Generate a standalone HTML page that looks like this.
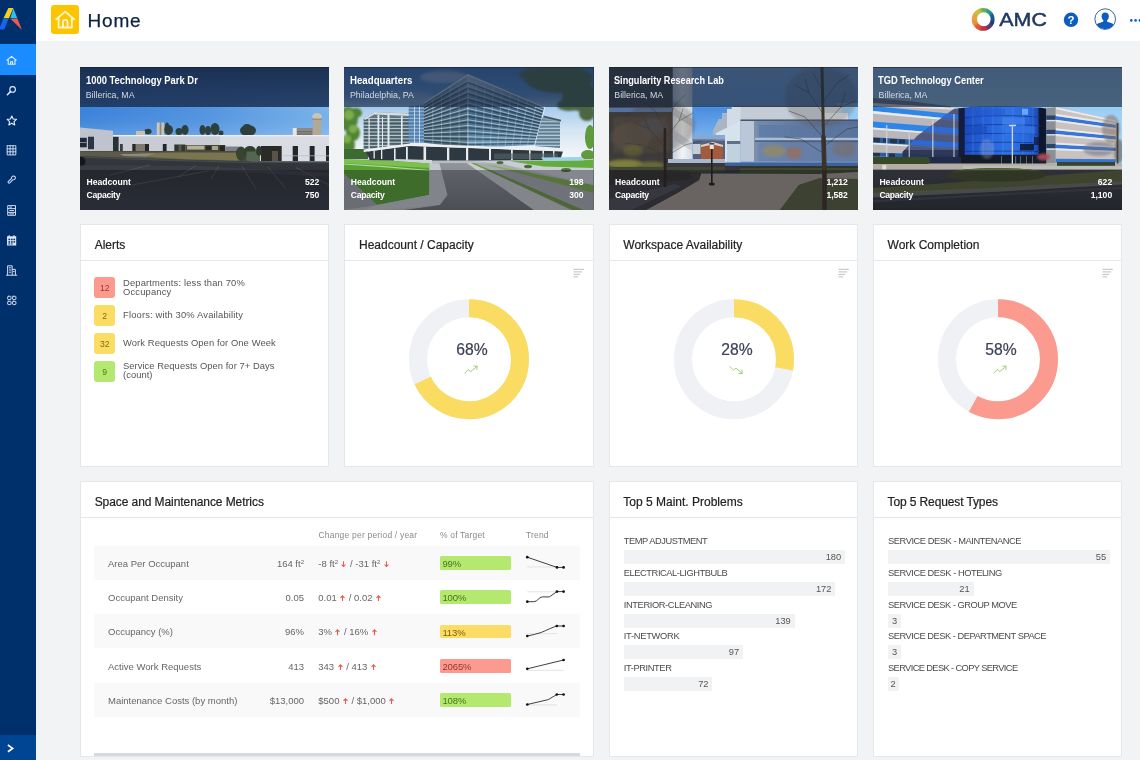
<!DOCTYPE html>
<html lang="en">
<head>
<meta charset="utf-8">
<title>Home</title>
<style>
*{box-sizing:border-box;margin:0;padding:0}
html,body{width:1140px;height:760px;overflow:hidden}
body{background:#f1f3f5;font-family:"Liberation Sans",sans-serif;color:#333;position:relative}
.abs{position:absolute}
#side{position:absolute;left:0;top:0;width:36px;height:760px;background:#00306b}
#side .act{position:absolute;left:0;top:44px;width:36px;height:31px;background:#1a8cff}
#side svg{position:absolute;left:0;top:0}
#top{position:absolute;left:36px;top:0;width:1104px;height:41px;background:#fff}
#homeico{position:absolute;left:50.5px;top:5px;width:28.5px;height:29px;border-radius:3px;background:#fdc500}
#title{position:absolute;left:87.600px;top:8.800px;font-size:19px;color:#0c2340;letter-spacing:.8px;-webkit-text-stroke:.25px #0c2340;line-height:24px}
.card{position:absolute;top:67px;height:143px;width:249.3px;overflow:hidden;background:#345}
.card .hd{position:absolute;left:0;top:0;right:0;height:40px;background:rgba(28,42,66,.66);border-top:1px solid rgba(30,30,30,.55)}
.card .ft{position:absolute;left:0;bottom:0;right:0;height:40px;background:rgba(20,22,28,.38)}
.card .t{position:absolute;left:5.6px;top:7.3px;font-size:10.7px;font-weight:bold;color:#fff;white-space:nowrap;line-height:12px;transform-origin:0 0;transform:scaleX(.88)}
.card .s{position:absolute;left:5.7px;top:23px;font-size:8.8px;color:#d3d9e2;white-space:nowrap;line-height:10px}
.card .l1,.card .l2,.card .v1,.card .v2{position:absolute;font-size:8.6px;font-weight:bold;color:#fff;white-space:nowrap;line-height:10px}
.card .l1{left:6.5px;top:109.5px}.card .l2{left:6.5px;top:122.5px;letter-spacing:-.27px}
.card .v1{right:10px;top:109.5px}.card .v2{right:10px;top:122.5px}
.panel{position:absolute;background:#fff;border:1px solid #e5e8eb}
.panel .ph{position:absolute;left:0;right:0;top:0;height:35.5px;border-bottom:1px solid #e5e8eb}
.panel .pt{position:absolute;left:13.7px;top:13px;font-size:12px;color:#222;white-space:nowrap;line-height:14px;-webkit-text-stroke:.2px #222}

.bdg{position:absolute;left:94.2px;width:21px;height:21px;border-radius:3px;font-size:8.6px;line-height:22.6px;text-align:center}
.al{position:absolute;left:123px;font-size:9.4px;line-height:9.1px;color:#555;white-space:nowrap;letter-spacing:.16px}

.band{position:absolute;left:93.7px;width:486px;height:34.3px;background:#f9f9fa}
.th{position:absolute;top:530px;font-size:8.5px;line-height:10px;color:#8a8a8a;white-space:nowrap;letter-spacing:.2px}
.rl,.rv,.rc{margin-top:.7px;position:absolute;font-size:9.5px;line-height:12px;color:#666;white-space:nowrap}
.rl{left:108px}
.rv{right:836px;text-align:right}
.rc{left:318.3px}
.rc svg{display:inline-block;vertical-align:-0.3px;margin:0 3.6px 0 3.4px}
.tb{position:absolute;left:439.8px;width:71.4px;height:13.8px;border-radius:1.5px;font-size:9.5px;line-height:15.8px;padding-left:2.6px;letter-spacing:-.1px}
.g{background:#b5e86f;color:#46761a}.y{background:#fbdd66;color:#7d5f0c}.r{background:#fb9b8f;color:#9a332b}
sup.q{font-size:6px;vertical-align:3px;line-height:0}

.bl{margin-top:.6px;position:absolute;font-size:9.3px;line-height:11px;color:#4a4a4a;white-space:nowrap;letter-spacing:-.44px}
.bb{position:absolute;height:14px;background:#f1f2f4;font-size:9.3px;line-height:15.4px;color:#555;text-align:right;padding-right:3.8px;white-space:nowrap}
.card svg.ph{position:absolute;left:0;top:0;width:100%;height:100%}
</style>
</head>
<body>
<div id="side"><div class="act"></div><svg width="36" height="760" viewBox="0 0 36 760">
<!-- logo -->
<polygon points="8.4,7.9 13.3,7.9 8.9,18.2 3.5,18.2" fill="#f7cf1c"/>
<polygon points="13.4,8.2 17.3,18.2 10.2,18.2" fill="#2bc0ee"/>
<polygon points="3.1,19 8.5,19 4.3,29.6 -1,29.6" fill="#1465f2"/>
<polygon points="10.7,19 17.4,18.6 22,30" fill="#f0584a"/>
<g fill="none" stroke="#e3eefc" stroke-width="1.1" stroke-linejoin="round" stroke-linecap="round">
<!-- home -->
<path d="M7 60.2 L11.6 56.4 L16.2 60.2 M8.2 59.7 V64.2 H15 V59.7 M10.6 64.2 V61.8 H12.6 V64.2"/>
<!-- search -->
<circle cx="12.6" cy="89.4" r="2.8"/><path d="M10.5 91.6 L7.4 94.7" stroke-width="1.5"/>
<!-- star -->
<path d="M11.80 116.00 L13.18 119.04 L16.49 119.40 L14.01 121.61 L14.74 124.92 L11.80 123.18 L8.86 124.92 L9.59 121.61 L7.11 119.40 L10.42 119.04 Z"/>
</g>
<g fill="none" stroke="#cfdcf0" stroke-width="1" stroke-linejoin="round" stroke-linecap="round">
<!-- grid -->
<path d="M7.2 145.7 H15.8 V154.9 H7.2 Z M7.2 148.8 H15.8 M7.2 151.8 H15.8 M10.1 145.7 V154.9 M13 145.7 V154.9" stroke-dasharray="1.2 .7"/>
<!-- wrench -->
<path d="M8.38 181.48 L11.58 178.28 A1.92 1.92 0 1 1 13.02 179.72 L9.82 182.92 A1.00 1.00 0 0 1 8.38 181.48 Z" stroke-width="1.1"/>
<!-- list -->
<path d="M8.1 205.6 H15.5 V215.3 H8.1 Z M8.1 208.6 H15.5 M8.1 212.4 H15.5 M9.8 207.1 H11.5 M9.8 210.5 H13.6 M9.8 213.9 H13.6"/>
<!-- building -->
<path d="M7.6 275 V265.8 H12.2 V275 M12.2 269.4 H15.4 V275 M6.5 275.2 H16.8 M9.2 267.8 H10.6 M9.2 270 H10.6 M9.2 272.2 H10.6 M13.4 271.6 H14.2" />
<!-- apps -->
<rect x="7.7" y="296.3" width="3.3" height="3.3" rx=".6"/><rect x="12.6" y="296.3" width="3.3" height="3.3" rx=".6"/>
<rect x="7.7" y="301.3" width="3.3" height="3.3" rx=".6"/><rect x="12.6" y="301.3" width="3.3" height="3.3" rx=".6"/>
</g>
<!-- calendar -->
<path d="M7 236.2 H8.6 V235.2 H9.8 V236.2 H13.4 V235.2 H14.6 V236.2 H16.2 V245.4 H7 Z" fill="#dbe6f6"/>
<g fill="#00306b"><rect x="8.4" y="238.7" width="1.7" height="1.5"/><rect x="10.9" y="238.7" width="1.7" height="1.5"/><rect x="13.4" y="238.7" width="1.7" height="1.5"/>
<rect x="8.4" y="241.2" width="1.7" height="1.5"/><rect x="10.9" y="241.2" width="1.7" height="1.5"/><rect x="13.4" y="241.2" width="1.7" height="1.5"/>
<rect x="8.4" y="243.4" width="1.7" height="1.1"/><rect x="10.9" y="243.4" width="1.7" height="1.1"/></g>
<!-- bottom -->
<rect x="0" y="735" width="36" height="25" fill="#004494"/>
<path d="M7.9 745 L12.6 748.4 L7.9 751.8" fill="none" stroke="#fff" stroke-width="1.7"/>
</svg></div>
<div id="top"></div>
<div id="homeico"><svg width="29" height="29" viewBox="0 0 29 29" style="position:absolute;left:0;top:0"><path d="M5.3 14.3 L14.2 6.6 L23.1 14.3 M7.6 13.4 V22.5 H20.8 V13.4 M11.9 22.5 V17.2 A2.3 2.3 0 0 1 16.5 17.2 V22.5" fill="none" stroke="#fff6d0" stroke-width="1.8" stroke-linejoin="round" stroke-linecap="round"/></svg></div>
<svg class="abs" style="left:960px;top:0" width="180" height="41" viewBox="960 0 180 41">
<defs>
<linearGradient id="rg1" x1="0" y1="0" x2="1" y2="0"><stop offset="0" stop-color="#f0a23a"/><stop offset=".45" stop-color="#8fc04a"/><stop offset="1" stop-color="#3e86c8"/></linearGradient>
<linearGradient id="rg2" x1="0" y1="0" x2="1" y2="0"><stop offset="0" stop-color="#e8853a"/><stop offset=".45" stop-color="#d8453a"/><stop offset="1" stop-color="#3f6fb8"/></linearGradient>
</defs>
<clipPath id="ringc"><path clip-rule="evenodd" d="M971.8000000000001 19.4 a11.4 11.4 0 1 0 22.8 0 a11.4 11.4 0 1 0 -22.8 0 Z M977.0 19.3 a6.8 7 0 1 1 13.6 0 a6.8 7 0 1 1 -13.6 0 Z"/></clipPath>
<filter id="ringb" x="-20%" y="-20%" width="140%" height="140%"><feGaussianBlur stdDeviation="1.1"/></filter>
<g clip-path="url(#ringc)"><g filter="url(#ringb)"><path d="M983.2 19.4 L978.87 6.09 A14 14 0 0 1 987.99 6.24 Z" fill="#6ab04c"/><path d="M983.2 19.4 L987.53 6.09 A14 14 0 0 1 994.81 11.57 Z" fill="#2f9a8a"/><path d="M983.2 19.4 L994.53 11.17 A14 14 0 0 1 997.19 19.89 Z" fill="#1f5a8a"/><path d="M983.2 19.4 L997.20 19.40 A14 14 0 0 1 994.23 28.02 Z" fill="#1f3f78"/><path d="M983.2 19.4 L994.53 27.63 A14 14 0 0 1 987.06 32.86 Z" fill="#5a3a70"/><path d="M983.2 19.4 L987.53 32.71 A14 14 0 0 1 978.41 32.56 Z" fill="#c62f3c"/><path d="M983.2 19.4 L978.87 32.71 A14 14 0 0 1 971.59 27.23 Z" fill="#e2572e"/><path d="M983.2 19.4 L971.87 27.63 A14 14 0 0 1 969.21 18.91 Z" fill="#e8923a"/><path d="M983.2 19.4 L969.20 19.40 A14 14 0 0 1 972.17 10.78 Z" fill="#e6a43a"/><path d="M983.2 19.4 L971.87 11.17 A14 14 0 0 1 979.34 5.94 Z" fill="#c8c040"/></g></g>
<text x="999.3" y="26.3" font-family="Liberation Sans, sans-serif" font-size="18.3" fill="#1f3864" stroke="#1f3864" stroke-width=".45" textLength="47.6" lengthAdjust="spacingAndGlyphs">AMC</text>
<circle cx="1071" cy="19.8" r="7.2" fill="#0d5cc0"/>
<text x="1071" y="24" text-anchor="middle" font-family="Liberation Sans, sans-serif" font-weight="bold" font-size="11.5" fill="#fff">?</text>
<circle cx="1105.2" cy="19.1" r="10.3" fill="#fff" stroke="#2f66b4" stroke-width="1"/>
<clipPath id="uc"><circle cx="1105.2" cy="19.1" r="10.2"/></clipPath>
<g clip-path="url(#uc)" fill="#0d5cc0"><ellipse cx="1105.2" cy="16.6" rx="3.6" ry="4"/><path d="M1103.300 19 H1107.100 V21.500 C1109 22.800 1113.500 23 1115 26 V31 H1095.400 V26 C1096.900 23 1101.400 22.800 1103.300 21.500 Z"/></g>
<circle cx="1131.3" cy="20.4" r="1.3" fill="#0d5cc0"/><circle cx="1135.6" cy="20.4" r="1.3" fill="#0d5cc0"/><circle cx="1139.9" cy="20.4" r="1.3" fill="#0d5cc0"/>
</svg>
<div id="title">Home</div>

<div class="card" style="left:80px"><svg class="ph" viewBox="0 0 249.3 143" preserveAspectRatio="none">
<defs>
<linearGradient id="c1sky" x1="0" y1="0" x2="1" y2="0"><stop offset="0" stop-color="#3a82da"/><stop offset=".5" stop-color="#5495e0"/><stop offset="1" stop-color="#7db6ec"/></linearGradient>
<linearGradient id="c1skyv" x1="0" y1="0" x2="0" y2="1"><stop offset="0" stop-color="#1c3c74" stop-opacity="1"/><stop offset=".55" stop-color="#2a5aa8" stop-opacity=".75"/><stop offset=".56" stop-color="#3f7fd0" stop-opacity=".0"/><stop offset="1" stop-color="#a8cff4" stop-opacity=".4"/></linearGradient>
<linearGradient id="c1asp" x1="0" y1="0" x2="0" y2="1"><stop offset="0" stop-color="#35383d"/><stop offset=".25" stop-color="#303338"/><stop offset="1" stop-color="#363b46"/></linearGradient>
<filter id="bl1" x="-5%" y="-5%" width="110%" height="110%"><feGaussianBlur stdDeviation=".45"/></filter>
</defs>
<rect width="249.3" height="143" fill="url(#c1sky)"/>
<rect y="0" width="249.3" height="72" fill="url(#c1skyv)"/>
<g filter="url(#bl1)">
<!-- trees -->
<g fill="#2e3f3a">
<ellipse cx="68" cy="64.500" rx="3.600" ry="2.800"/><ellipse cx="88.500" cy="63" rx="4.500" ry="5"/><ellipse cx="87" cy="59" rx="2" ry="3.500"/>
<ellipse cx="99" cy="64.500" rx="3.500" ry="3.500"/><ellipse cx="105" cy="63" rx="3.600" ry="5"/>
<ellipse cx="122.500" cy="63" rx="3" ry="5"/><ellipse cx="128" cy="63.500" rx="3" ry="4.500"/><ellipse cx="135" cy="62" rx="4.500" ry="6"/><ellipse cx="141" cy="66" rx="2.500" ry="2.500"/>
<ellipse cx="168" cy="63.500" rx="8" ry="5.500"/><ellipse cx="167" cy="60" rx="4" ry="3"/>
</g>
<!-- tower left small -->
<rect x="76.800" y="55.500" width="3" height="13" fill="#cfc9bc"/><rect x="81.200" y="55.500" width="3" height="13" fill="#c9c3b5"/><rect x="79.800" y="57" width="1.400" height="11" fill="#8d8a80"/>
<rect x="56" y="64" width="9" height="5" fill="#c9bfb0"/>
<!-- right tower + building -->
<rect x="212.700" y="61" width="20" height="8" fill="#8f8b84"/><rect x="212.700" y="61" width="4" height="8" fill="#e4e6ea"/><rect x="217" y="64" width="15" height="1.200" fill="#6f6b64"/><rect x="217" y="66.500" width="15" height="1.200" fill="#6f6b64"/>
<rect x="233" y="52" width="8.300" height="17" fill="#b3a894"/><ellipse cx="237.100" cy="49.500" rx="4.800" ry="3.600" fill="#c9c3b4"/><rect x="232.300" y="51.500" width="9.600" height="1.500" fill="#9a907e"/>
<!-- left building -->
<polygon points="0,60.400 33,63.700 33,86 0,86" fill="#bfc3cd"/>
<rect x="0" y="70.800" width="6.800" height="9.500" fill="#232a36"/><rect x="8" y="69.700" width="6" height="12.500" fill="#2c3646"/><rect x="0" y="75" width="6.800" height="1" fill="#8089a0"/>
<!-- main building -->
<rect x="33" y="68" width="216.300" height="26.500" fill="#c9ccd5"/><rect x="140" y="68" width="109.300" height="26.500" fill="#dadce3"/>
<rect x="33" y="68" width="216.300" height="1.300" fill="#eceef2"/>
<rect x="33" y="69.800" width="5.600" height="15" fill="#283038"/>
<rect x="40" y="77" width="2.800" height="7.500" fill="#3a3e40"/>
<rect x="52.400" y="77" width="16.600" height="8" fill="#7d7a70"/><rect x="52.400" y="77" width="3.200" height="8" fill="#2c2c2a"/><rect x="65" y="77" width="4" height="8" fill="#262624"/>
<rect x="82.800" y="77" width="3.800" height="8" fill="#24282a"/>
<rect x="94.300" y="77.500" width="11" height="7.500" fill="#34362f"/><rect x="98.500" y="78" width="3" height="7" fill="#55584e"/>
<rect x="105.300" y="78" width="40" height="8" fill="#4a4436"/><rect x="107" y="78.600" width="17.500" height="4" fill="#b5b096"/><rect x="126" y="79" width="5" height="4" fill="#2a2a26"/><rect x="132" y="79" width="6" height="4" fill="#a9a48c"/><rect x="140" y="78.500" width="5" height="7" fill="#2c2824"/>
<rect x="145.300" y="79.500" width="14" height="9" fill="#7c828a"/>
<rect x="181" y="79" width="20.700" height="15" fill="#2a2a27"/><rect x="192" y="84" width="6" height="10" fill="#5a5248"/>
<rect x="212.700" y="79" width="5.300" height="15" fill="#26262a"/><rect x="229.700" y="79" width="4.900" height="15" fill="#26262a"/><rect x="246" y="79" width="3.300" height="15" fill="#26262a"/>
<rect x="201.700" y="88.500" width="47.600" height=".7" fill="#b9bcc4"/>
<rect x="0" y="84" width="170" height="12" fill="#4a4a40"/>
<!-- grass / dirt -->
<polygon points="0,84.500 60,85 120,85.500 160,85.500 160,94 100,92.500 40,90.500 0,89" fill="#5b5a48"/>
<polygon points="60,86.200 100,85.600 158,85.800 158,93.500 100,92 66,89.500" fill="#79744f"/>
<polygon points="40,87 75,86.600 66,89.600 44,89" fill="#8f8a7c"/>
<!-- bushes -->
<ellipse cx="161" cy="86.500" rx="5" ry="7" fill="#35452f"/><ellipse cx="170" cy="84" rx="6" ry="5" fill="#33402f"/><rect x="166.500" y="84.500" width="13.500" height="9.500" fill="#52664f"/><ellipse cx="179" cy="84" rx="3" ry="5" fill="#2f3b2b"/>
</g>
<!-- asphalt -->
<polygon points="0,89 40,90.800 100,92.800 160,94.300 249.300,94.600 249.300,143 0,143" fill="url(#c1asp)"/>
<g filter="url(#bl1)">
<polygon points="0,89.300 40,91 100,93 160,94.500 249.300,95 249.300,96.300 160,95.800 100,94.300 40,92.300 0,90.400" fill="#4c4f54" opacity=".8"/>
<ellipse cx="1" cy="94.500" rx="4.500" ry="4.800" fill="#16181b"/>
<g stroke="#6d7074" stroke-width=".9" opacity=".55" fill="none">
<path d="M116 98.500 L98 110 M139 99 L131 112 M162 99.500 L176 122 M188 100 L206 122 M216 100.500 L249 118 M70 98 L30 108 M128 104 L52 118"/>
</g>
<polygon points="0,98 120,99 249.300,106 249.300,110 120,103 0,103" fill="#4a4d52" opacity=".35"/>
</g>
</svg>
<div class="hd"></div><div class="ft"></div>
<div class="t" style="transform:scaleX(.881)">1000 Technology Park Dr</div><div class="s">Billerica, MA</div>
<div class="l1">Headcount</div><div class="l2">Capacity</div><div class="v1">522</div><div class="v2">750</div></div>
<div class="card" style="left:344.3px"><svg class="ph" viewBox="0 0 249.3 143" preserveAspectRatio="none">
<defs>
<linearGradient id="c2sky" x1="0" y1="0" x2="0" y2="1"><stop offset="0" stop-color="#3a74c4"/><stop offset=".2" stop-color="#5a90d2"/><stop offset=".29" stop-color="#a9cdee"/><stop offset=".45" stop-color="#d6e6f4"/><stop offset=".6" stop-color="#f0f4f7"/></linearGradient>
<linearGradient id="c2gl" x1="0" y1="0" x2="0" y2="1"><stop offset="0" stop-color="#a8c6e4"/><stop offset=".3" stop-color="#6a90b6"/><stop offset=".55" stop-color="#3f6482"/><stop offset="1" stop-color="#6f9cb8"/></linearGradient>
<linearGradient id="c2gl2" x1="0" y1="0" x2="0" y2="1"><stop offset="0" stop-color="#9ab8d8"/><stop offset=".4" stop-color="#4a6a84"/><stop offset="1" stop-color="#50707e"/></linearGradient>
<linearGradient id="c2road" x1="0" y1="0" x2="0" y2="1"><stop offset="0" stop-color="#92969b"/><stop offset="1" stop-color="#6e7277"/></linearGradient>
<filter id="bl2" x="-5%" y="-5%" width="110%" height="110%"><feGaussianBlur stdDeviation=".5"/></filter>
<filter id="bl2t" x="-20%" y="-20%" width="140%" height="140%"><feGaussianBlur stdDeviation=".9"/></filter>
<filter id="bl2b" x="-10%" y="-10%" width="120%" height="120%"><feGaussianBlur stdDeviation="1.6"/></filter>
<pattern id="c2h2" width="4" height="3.4" patternUnits="userSpaceOnUse"><rect y="0" width="4" height="1.1" fill="#e4ebf0" opacity=".75"/><rect y="1.1" width="4" height="1.3" fill="#22323a" opacity=".6"/></pattern>
</defs>
<rect width="249.3" height="143" fill="url(#c2sky)"/>
<g filter="url(#bl2b)"><ellipse cx="100" cy="10" rx="24" ry="6" fill="#c8d8ea" opacity=".55"/><ellipse cx="60" cy="30" rx="30" ry="6" fill="#c0d0e4" opacity=".3"/></g>
<g filter="url(#bl2)">
<!-- left building -->
<polygon points="19.7,51.5 30,45 66,46.500 66,82 19.700,82" fill="#5f7a84"/>
<rect x="19.700" y="50" width="46.300" height="32" fill="url(#c2h2)"/>
<polygon points="19.700,51.500 30,45 66,46.500 66,49 30,47.500 21,53" fill="#d8dcde"/>
<g fill="#e6ecee"><rect x="33.500" y="48" width="1.800" height="34"/><rect x="43.500" y="48" width="2" height="34"/><rect x="57" y="49" width="1.600" height="33"/><rect x="24.500" y="52" width="1.200" height="30"/><rect x="38" y="50" width="1" height="32"/></g>
<!-- far-left glass box -->
<polygon points="64.700,39.500 80,37 80,76 64.700,76" fill="#5f93c8"/>
<polygon points="64.700,39.500 80,37 80,76 64.700,76" fill="url(#c2h2)" opacity=".5"/>
<rect x="70" y="38.500" width="1" height="37.500" fill="#e8f0f6" opacity=".7"/><rect x="75" y="38" width="1" height="38" fill="#e8f0f6" opacity=".7"/>
<!-- main building -->
<polygon points="80,36.2 123.9,7.7 123.9,81 80,75.7" fill="url(#c2gl2)"/>
<polygon points="123.9,7.7 200.7,40.6 190.8,77.9 123.9,81" fill="url(#c2gl)"/>
<path d="M80.0 40.4 L123.9 15.5 L199.6 44.6 M80.0 43.5 L123.9 21.2 L198.9 47.5 M80.0 46.5 L123.9 26.8 L198.1 50.3 M80.0 49.5 L123.9 32.5 L197.4 53.2 M80.0 52.6 L123.9 38.1 L196.6 56.1 M80.0 55.6 L123.9 43.7 L195.8 58.9 M80.0 58.7 L123.9 49.4 L195.1 61.8 M80.0 61.7 L123.9 55.0 L194.3 64.7 M80.0 64.7 L123.9 60.6 L193.5 67.5 M80.0 67.8 L123.9 66.3 L192.8 70.4 M80.0 70.8 L123.9 71.9 L192.0 73.3 M80.0 73.8 L123.9 77.6 L191.3 76.1 " fill="none" stroke="#1a2a38" stroke-width="1.300" opacity=".55"/>
<path d="M80.0 39.2 L123.9 13.3 L199.9 43.5 M80.0 42.3 L123.9 19.0 L199.2 46.3 M80.0 45.3 L123.9 24.6 L198.4 49.2 M80.0 48.4 L123.9 30.3 L197.7 52.1 M80.0 51.4 L123.9 35.9 L196.9 54.9 M80.0 54.4 L123.9 41.5 L196.1 57.8 M80.0 57.5 L123.9 47.2 L195.4 60.7 M80.0 60.5 L123.9 52.8 L194.6 63.6 M80.0 63.5 L123.9 58.4 L193.8 66.4 M80.0 66.6 L123.9 64.1 L193.1 69.3 M80.0 69.6 L123.9 69.7 L192.3 72.2 M80.0 72.7 L123.9 75.4 L191.6 75.0 " fill="none" stroke="#dfe9f0" stroke-width=".800" opacity=".7"/>
<path d="M132.4 11.4 L131.3 80.7 M141.0 15.0 L138.8 80.3 M149.5 18.7 L146.2 80.0 M158.0 22.3 L153.6 79.6 M166.6 26.0 L161.1 79.3 M175.1 29.6 L168.5 78.9 M183.6 33.3 L175.9 78.6 M192.2 36.9 L183.4 78.2 M88.8 30.5 L88.8 76.8 M97.6 24.8 L97.6 77.8 M106.3 19.1 L106.3 78.9 M115.1 13.4 L115.1 79.9 " fill="none" stroke="#e6eef4" stroke-width=".500" opacity=".55"/>
<path d="M80 36.2 L123.9 7.7 L200.7 40.6 L190.8 77.9" fill="none" stroke="#e9f0f6" stroke-width="1.100" opacity=".9"/>
<path d="M123.9 7.7 L123.9 81" fill="none" stroke="#dfe8f0" stroke-width=".800" opacity=".7"/>
<!-- side block -->
<polygon points="197.500,52 200,49.300 216,53.700 216,81 191,79" fill="#7fa4bc"/>
<polygon points="197.500,52 216,55 216,81 191,79" fill="url(#c2h2)" opacity=".8"/>
<polygon points="199.500,48.600 217,52.800 217,54.500 199.500,50.400" fill="#4f565e"/>
<!-- left tree -->
<g filter="url(#bl2t)"><g fill="#4f8334"><ellipse cx="4" cy="52" rx="10" ry="12"/><ellipse cx="9" cy="66" rx="7" ry="8"/><ellipse cx="3" cy="78" rx="8" ry="10"/><ellipse cx="12" cy="46" rx="6" ry="5"/></g>
<g fill="#7dad4c"><ellipse cx="5" cy="48" rx="5" ry="5"/><ellipse cx="9" cy="62" rx="4" ry="4"/><ellipse cx="3" cy="72" rx="4" ry="4"/></g></g>
<rect x="0" y="82" width="24" height="12" fill="#3d6a32"/>
<!-- right tree -->
<g filter="url(#bl2t)" fill="#4c6640"><ellipse cx="215" cy="12" rx="34" ry="14"/><ellipse cx="236" cy="30" rx="18" ry="14"/><ellipse cx="190" cy="8" rx="14" ry="7"/><ellipse cx="243" cy="46" rx="8" ry="8"/><ellipse cx="225" cy="38" rx="12" ry="6"/></g>
<g fill="#5f9a3e"><ellipse cx="246" cy="70" rx="5" ry="12"/><ellipse cx="244" cy="88" rx="7" ry="5"/></g>
<!-- ground base -->
<rect x="0" y="92" width="249.300" height="51" fill="#b9bec2"/>
<!-- under canopy -->
<polygon points="22,84.800 65.800,78.800 219,84.200 216,93.500 26,93.500" fill="#2e383f"/>
<g fill="#e8ecee"><rect x="29.500" y="84" width="1.300" height="7.500"/><rect x="37" y="83" width="1.300" height="9"/><rect x="50" y="81.500" width="1.600" height="11.500"/><rect x="62" y="80" width="1.800" height="13.500"/><rect x="79.500" y="79.500" width="2.600" height="14.500"/><rect x="103" y="80.500" width="2.300" height="13"/><rect x="122" y="81" width="2.200" height="12.500"/><rect x="145" y="82" width="2" height="11"/><rect x="167" y="82.600" width="1.800" height="10.400"/><rect x="185" y="83.200" width="1.600" height="9.300"/><rect x="198.500" y="83.600" width="1.500" height="8.900"/><rect x="209" y="84" width="1.400" height="8"/></g>
<rect x="150" y="86.500" width="64" height="5.500" fill="#55666a" opacity=".6"/>
<!-- canopy slab -->
<polygon points="19.700,82.600 65.800,76.600 219.500,82.200 219.500,84.400 65.800,79 19.700,85" fill="#eceeef"/>
<!-- planter -->
<polygon points="50,92 88,93 88,98.500 50,97" fill="#cdd3d6"/>
<!-- lawns -->
<polygon points="0,92.600 50,94 85.500,96.500 85,128 33,138 0,107" fill="#58a236"/>
<polygon points="0,92.600 50,94 85.500,96.500 85.500,101 0,96" fill="#7cc04e"/>
<polygon points="0,96.500 40,99 85,103 85,104 40,100.200 0,97.600" fill="#cfe2b8" opacity=".8"/>
<polygon points="0,107 33,138 0,143" fill="#9fa5aa"/>
<!-- sidewalk -->
<polygon points="85.500,96.500 95.400,97 103.500,128 96,138 40,143 20,143 33,138 85,128" fill="#c3c8cc"/>
<!-- road -->
<polygon points="95.400,96 122.800,96 190,143 60,143 96,138 103.500,128" fill="url(#c2road)"/>
<!-- median strips -->
<polygon points="122.800,96 131,96 225,143 190,143" fill="#c6cbcf"/>
<polygon points="127,96 131,96 240,143 228,143" fill="#6f9a48"/>
<polygon points="131,96 160,97 249.300,125 249.300,143 240,143" fill="#a6acb0"/>
<polygon points="140,97 249.300,118 249.300,126" fill="#7fae50"/>
<!-- right lawn & plaza -->
<polygon points="131,94 249.300,92.500 249.300,118 160,97" fill="#c9ced2"/>
<polygon points="166,94.300 249.300,93 249.300,101 200,99.500" fill="#62ad3c"/>
<polygon points="197,90.500 237,90 240,93.500 200,94" fill="#9fd2ea"/>
<ellipse cx="156" cy="95.500" rx="3.500" ry="1.600" fill="#4c6a38"/><ellipse cx="184" cy="99.500" rx="4" ry="1.800" fill="#4c6a38"/><ellipse cx="222" cy="103" rx="5" ry="2" fill="#55743c"/>
</g>
</svg>
<div class="hd"></div><div class="ft"></div>
<div class="t" style="transform:scaleX(.904)">Headquarters</div><div class="s">Philadelphia, PA</div>
<div class="l1">Headcount</div><div class="l2">Capacity</div><div class="v1">198</div><div class="v2">300</div></div>
<div class="card" style="left:608.6px"><svg class="ph" viewBox="0 0 249.3 143" preserveAspectRatio="none">
<defs>
<linearGradient id="c3sky" x1="0" y1="0" x2="0" y2="1"><stop offset="0" stop-color="#7aa6dc"/><stop offset=".26" stop-color="#6aa0e0"/><stop offset=".29" stop-color="#4a8ee0"/><stop offset=".5" stop-color="#7ab4ee"/></linearGradient>
<linearGradient id="c3gl" x1="0" y1="0" x2="1" y2="0"><stop offset="0" stop-color="#7894b8"/><stop offset=".5" stop-color="#607a9e"/><stop offset="1" stop-color="#586f96"/></linearGradient>
<linearGradient id="c3wt" x1="0" y1="0" x2="1" y2="0"><stop offset="0" stop-color="#c9ced6"/><stop offset=".5" stop-color="#f2f4f6"/><stop offset="1" stop-color="#d5dbe2"/></linearGradient>
<linearGradient id="c3gr" x1="0" y1="0" x2="0" y2="1"><stop offset="0" stop-color="#8f8a84"/><stop offset="1" stop-color="#9a958e"/></linearGradient>
<filter id="bl3" x="-5%" y="-5%" width="110%" height="110%"><feGaussianBlur stdDeviation=".5"/></filter>
<filter id="bl3b" x="-10%" y="-10%" width="120%" height="120%"><feGaussianBlur stdDeviation="1.4"/></filter>
</defs>
<rect width="249.3" height="143" fill="url(#c3sky)"/>
<g filter="url(#bl3)">
<!-- right sky lighter -->
<rect x="228" y="36" width="22" height="20" fill="#96ccf6"/>
<!-- upper block -->
<polygon points="122.800,40 124,38.400 232.500,38.400 232.500,54 122.800,54" fill="#c4ccd8"/>
<polygon points="124,38.400 232.500,38.400 232.500,40 124,40" fill="#6a7280"/>
<rect x="215" y="46" width="24" height="8" fill="#dfe5ec"/>
<!-- stepped white building -->
<polygon points="104,64 110,52 113.500,52 113.500,46 118,46 118,42 122.800,42 122.800,40 131.600,40 131.600,97 104,97" fill="#d3dce6"/>
<polygon points="104,64 110,52 113.500,52 113.500,46 118,46 118,42 118,97 104,97" fill="#a9b5c2"/>
<polygon points="107,66 131.600,54 131.600,97 107,97" fill="#d6e2ec"/>
<rect x="118" y="74" width="13.600" height="3" fill="#5f7088"/>
<rect x="118" y="77" width="13.600" height="20" fill="#c0d2e0"/>
<!-- main glass block -->
<rect x="131.600" y="52.600" width="118" height="44.400" fill="url(#c3gl)"/>
<rect x="131.600" y="52.600" width="118" height="1.400" fill="#495468"/>
<rect x="131.600" y="54" width="14" height="43" fill="#b9c7d8"/>
<rect x="145" y="54" width="3" height="43" fill="#7f8fa6"/>
<rect x="146" y="70.800" width="104" height="2.600" fill="#a8bdd6"/>
<rect x="146" y="73.400" width="104" height="1.500" fill="#4e5f7e"/>
<rect x="150" y="58" width="100" height="12" fill="#5a76a4" opacity=".6"/>
<rect x="150" y="76" width="100" height="18" fill="#6882ae" opacity=".7"/>
<rect x="131.600" y="94.500" width="118" height="2.500" fill="#7ea0cc"/>
<!-- autumn reflections -->
<g filter="url(#bl3b)"><ellipse cx="165" cy="84" rx="12" ry="6" fill="#9a8a5a" opacity=".7"/><ellipse cx="185" cy="86" rx="8" ry="6" fill="#a8683a" opacity=".6"/><ellipse cx="235" cy="82" rx="12" ry="8" fill="#7a6a5a" opacity=".5"/></g>
<!-- entrance canopy & brick -->
<rect x="83" y="68" width="33" height="4.500" fill="#86a8d4"/><rect x="83" y="72.500" width="33" height="1.200" fill="#4a5a78"/>
<rect x="84" y="74" width="32" height="22" fill="#56627a"/>
<polygon points="92,78 104,75 114,78 114,92 92,92" fill="#a45a3c"/>
<polygon points="92,78 104,75 114,78 114,80 104,77.500 92,80" fill="#d8d2cc"/>
<rect x="84" y="77" width="7.500" height="10" fill="#c7cdd4"/>
<rect x="83" y="92" width="33" height="2" fill="#c0c8d2"/>
<!-- white tower -->
<rect x="63.600" y="0" width="19.700" height="96" fill="url(#c3wt)"/>
<polygon points="63.600,40 83.300,52 83.300,60 63.600,48" fill="#aab4c0" opacity=".6"/><polygon points="63.600,62 83.300,76 83.300,84 63.600,72" fill="#b8c0ca" opacity=".6"/>
<!-- left dark building -->
<rect x="0" y="0" width="63.600" height="103" fill="#3c3a3a"/>
<rect x="0" y="40.700" width="63.600" height="4.300" fill="#5a80bc" opacity=".8"/>
<g filter="url(#bl3b)"><rect x="4" y="50" width="56" height="36" fill="#4a433c" opacity=".8"/><ellipse cx="22" cy="70" rx="20" ry="14" fill="#5c5446" opacity=".6"/><ellipse cx="44" cy="60" rx="14" ry="10" fill="#4c5058" opacity=".6"/><ellipse cx="16" cy="97" rx="18" ry="4.500" fill="#86863a" opacity=".9"/><ellipse cx="42" cy="98" rx="14" ry="3.500" fill="#74743a" opacity=".8"/><ellipse cx="24" cy="84" rx="10" ry="6" fill="#6a6a34" opacity=".5"/></g>
<!-- slab under tower -->
<rect x="59" y="92" width="57" height="4" fill="#a8b8cc"/>
<rect x="59" y="96" width="72" height="7" fill="#38383c"/>
<!-- ground -->
<rect x="0" y="100" width="249.300" height="43" fill="#3f4630"/>
<rect x="116" y="95.500" width="133.300" height="3.500" fill="#41619a"/>
<rect x="116" y="99" width="133.300" height="2" fill="#2f3428"/>
<polygon points="0,103 60,103 92,106 116,104 116,100 131,100 131,107 92,107 0,107" fill="#35343a"/>
<polygon points="92,106.500 210,107 249.300,105 249.300,112 210,111.500 190,118 171,143 37,143 70,125 90,113" fill="#9d958c"/>
<polygon points="0,103 92,107 90,113 70,125 37,143 0,143" fill="#3a3b40"/>
<polygon points="0,132 66,117 72,119.500 22,143 0,143" fill="#55575c" opacity=".7"/>
<polygon points="0,103 80,106.500 84,112 40,116 0,118" fill="#34302e"/>
<polygon points="249.300,112 210,111.500 190,118 171,143 249.300,143" fill="#565c40"/>
<g filter="url(#bl3b)"><ellipse cx="212" cy="30" rx="36" ry="30" fill="#5a5048" opacity=".28"/><ellipse cx="52" cy="58" rx="34" ry="26" fill="#4a4038" opacity=".3"/></g>
<!-- lamp post -->
<rect x="102" y="80" width="1.600" height="37" fill="#1e2024"/><rect x="100.800" y="77" width="4" height="5" fill="#e9e6dc"/><rect x="100.400" y="76.200" width="4.800" height="1.300" fill="#222"/><ellipse cx="102.800" cy="117" rx="3" ry="1.500" fill="#1e2024"/>
<!-- trees -->
<g stroke="#3a322c" fill="none" stroke-linecap="round">
<path d="M215.500 143 C216 110 215 90 214.500 70" stroke-width="4.600"/><path d="M214.500 72 C214 50 213.500 25 213 0" stroke-width="3"/>
<path d="M214 70 L196 50 L180 44 M214 60 L232 40 L246 34 M213.500 46 L200 26 L186 18 M213.500 36 L228 16 L240 8 M213 22 L204 6 M214 80 L238 62 L249 60 M214 86 L192 72 L176 70 M200 26 L196 12 M232 40 L236 26" stroke-width=".7" opacity=".7"/>
<path d="M56 119 C56.500 100 55.500 80 56 62" stroke-width="2.600" stroke="#2a2420"/>
<path d="M56 80 L40 62 L26 56 M56 72 L70 54 L84 46 M56 62 L46 44 L36 36 M56 58 L66 38 L76 28 M40 62 L34 48 M70 54 L74 42 M56 90 L76 78 L92 74 M56 88 L34 78 L16 76" stroke-width=".6" opacity=".7"/>
</g>
</g>
</svg>
<div class="hd"></div><div class="ft"></div>
<div class="t" style="transform:scaleX(.856)">Singularity Research Lab</div><div class="s">Billerica, MA</div>
<div class="l1">Headcount</div><div class="l2">Capacity</div><div class="v1">1,212</div><div class="v2">1,582</div></div>
<div class="card" style="left:872.9px"><svg class="ph" viewBox="0 0 249.3 143" preserveAspectRatio="none">
<defs>
<linearGradient id="c4sky" x1="0" y1="0" x2="0" y2="1"><stop offset="0" stop-color="#8ab8e0"/><stop offset=".4" stop-color="#a4d4f8"/></linearGradient>
<linearGradient id="c4gl" x1="0" y1="0" x2="1" y2="0"><stop offset="0" stop-color="#121c3a"/><stop offset=".065" stop-color="#141f40"/><stop offset=".08" stop-color="#1d4fc4"/><stop offset=".3" stop-color="#2560d8"/><stop offset=".55" stop-color="#2f72e6"/><stop offset=".8" stop-color="#2a66dc"/><stop offset=".9" stop-color="#1e4cb4"/><stop offset=".925" stop-color="#0f172c"/><stop offset="1" stop-color="#121a30"/></linearGradient>
<linearGradient id="c4road" x1="0" y1="0" x2="0" y2="1"><stop offset="0" stop-color="#3f4349"/><stop offset="1" stop-color="#2b2e34"/></linearGradient>
<filter id="bl4" x="-5%" y="-5%" width="110%" height="110%"><feGaussianBlur stdDeviation=".5"/></filter>
<filter id="bl4b" x="-10%" y="-10%" width="120%" height="120%"><feGaussianBlur stdDeviation="1.300"/></filter>
<clipPath id="c4lw"><polygon points="0,36 40,38.500 87.700,41 87.700,92 0,92"/></clipPath>
<clipPath id="c4rw"><polygon points="173.200,41.200 182.600,40.100 242.900,53.300 242.900,96.500 173.200,96.500"/></clipPath>
<clipPath id="c4sh"><polygon points="29.600,92 29.600,85 44,69 81,41.800 87.700,41 87.700,92"/></clipPath>
</defs>
<rect width="249.3" height="143" fill="url(#c4sky)"/>
<g filter="url(#bl4)">
<!-- roof sign -->
<polygon points="0,31 40,34.500 78,39.500 78,41 0,36.500" fill="#6c7178"/>
<!-- left wing -->
<g clip-path="url(#c4lw)">
<rect x="0" y="30" width="88" height="62" fill="#bab6b9"/>
<polygon points="0,36 87.700,41 87.700,43 0,39" fill="#e2e2e6"/>
<g fill="#2f86e6">
<polygon points="0,39 87.700,47.800 87.700,52.700 0,44"/>
<polygon points="0,54.400 87.700,61.400 87.700,67.400 0,60.400"/>
</g>
<g fill="#2c5f9e">
<polygon points="0,70.300 87.700,75.500 87.700,81 0,75.800"/>
<polygon points="0,85.600 87.700,88.300 87.700,92.100 0,89.500"/>
</g>
<g fill="#efeff2" opacity=".9">
<polygon points="0,44 87.700,52.700 87.700,54.500 0,46.700"/><polygon points="0,60.400 87.700,67.400 87.700,69 0,62.400"/><polygon points="0,75.800 87.700,81 87.700,82.500 0,77.600"/>
</g>
<g fill="#1c2838" opacity=".75"><rect x="1" y="71" width="6" height="4"/><rect x="10" y="71.500" width="4" height="4"/><rect x="17" y="72" width="7" height="4"/><rect x="26" y="72.500" width="6" height="4"/><rect x="0" y="86" width="7" height="3.500"/><rect x="16" y="86.500" width="6" height="3.500"/></g>
<!-- shadow -->
<g clip-path="url(#c4sh)">
<rect x="29" y="40" width="60" height="52" fill="#34436e" opacity=".82"/>
<g fill="#2f6fe0" opacity=".85">
<polygon points="0,39 87.700,47.800 87.700,52.700 0,44"/>
<polygon points="0,54.400 87.700,61.400 87.700,67.400 0,60.400"/>
<polygon points="0,70.300 87.700,75.500 87.700,81 0,75.800"/>
</g>
<rect x="29" y="83" width="60" height="9" fill="#263250" opacity=".8"/>
</g>
</g>
<!-- right wing -->
<g clip-path="url(#c4rw)">
<rect x="173" y="38" width="72" height="60" fill="#c9c2be"/>
<polygon points="182.600,40.100 242.900,53.300 242.900,55 182.600,42" fill="#ecebea"/>
<g fill="#3476d6">
<polygon points="182.600,48.900 242.900,57.700 242.900,61 182.600,52.700"/>
<polygon points="182.600,63.200 242.900,69.200 242.900,72.500 182.600,67"/>
<polygon points="182.600,77.400 242.900,80.700 242.900,84 182.600,81.200"/>
<polygon points="182.600,91.700 242.900,92.200 242.900,95.500 182.600,95.500"/>
</g>
<g fill="#eeeef0" opacity=".9">
<polygon points="182.600,52.700 242.900,61 242.900,62.800 182.600,54.800"/><polygon points="182.600,67 242.900,72.500 242.900,74.200 182.600,69"/><polygon points="182.600,81.200 242.900,84 242.900,85.600 182.600,83.200"/>
<polygon points="182.600,46.800 242.900,56 242.900,57.700 182.600,48.900"/><polygon points="182.600,61.200 242.900,67.600 242.900,69.200 182.600,63.200"/><polygon points="182.600,75.500 242.900,79.200 242.900,80.700 182.600,77.400"/>
</g>
<polygon points="173.200,41.200 182.600,40.100 182.600,96.500 173.200,96.500" fill="#8a9098"/>
<g fill="#28426e"><rect x="173.200" y="48.500" width="9.400" height="4.200"/><rect x="173.200" y="62.800" width="9.400" height="4.200"/><rect x="173.200" y="77" width="9.400" height="4.200"/></g>
<g fill="#dfe1e4"><rect x="173.200" y="53" width="9.400" height="1.300"/><rect x="173.200" y="67.200" width="9.400" height="1.300"/><rect x="173.200" y="81.500" width="9.400" height="1.300"/></g>
<!-- tree shadow on right wing -->
<g filter="url(#bl4b)"><ellipse cx="226" cy="82" rx="16" ry="7" fill="#6a6a80" opacity=".5"/></g>
</g>
<!-- centre glass -->
<path d="M85.500 97 V41.500 C100 38.600 160 38.600 173.200 41.500 V97 Z" fill="url(#c4gl)"/>
<g stroke="#10307c" stroke-width=".9" opacity=".75" fill="none"><path d="M92 50.500 C110 48 150 48 167 50.500 M92 59 C110 57 150 57 167 59 M92 67.500 C110 66 150 66 167 67.500 M92 76 C110 75 150 75 167 76 M92 84.500 C110 84 150 84 167 84.500"/></g>
<g stroke="#6a9ef6" stroke-width=".6" opacity=".5"><path d="M100 40.500 V88 M110 40 V88 M120 39.700 V88 M130 39.600 V88 M140 39.700 V88 M150 40 V88 M160 40.500 V88"/></g>
<rect x="92" y="41.500" width="40" height="8.500" fill="#2458cc" opacity=".5"/>
<rect x="149" y="41.800" width="6" height="6" fill="#78b0fa" opacity=".85"/>
<rect x="130" y="50.500" width="22" height="8" fill="#4a88f0" opacity=".5"/>
<rect x="92" y="59" width="22" height="8" fill="#1c4ab8" opacity=".6"/>
<rect x="132" y="59.500" width="30" height="8" fill="#3a7aee" opacity=".5"/>
<rect x="147" y="76.900" width="14" height="6.500" fill="#0e1a3a" opacity=".9"/>
<rect x="161" y="70" width="6" height="8" fill="#0e1a3a" opacity=".7"/>
<rect x="85.500" y="87.800" width="87.700" height="9.500" fill="#181c28"/>
<g fill="#5a6478"><rect x="128" y="89" width="1" height="8"/><rect x="142" y="89" width="1.200" height="8"/><rect x="147" y="89" width="1" height="8"/><rect x="153" y="89" width="1" height="8"/><rect x="159" y="89" width="1" height="8"/></g>
<!-- small trees -->
<g filter="url(#bl4b)"><ellipse cx="238" cy="62" rx="9" ry="14" fill="#7a6a62" opacity=".5"/><ellipse cx="246" cy="84" rx="5" ry="12" fill="#5a4a44" opacity=".55"/><ellipse cx="114" cy="82" rx="7" ry="10" fill="#b8c0d8" opacity=".28"/><ellipse cx="170.500" cy="90" rx="6.500" ry="3.600" fill="#b04a5c" opacity=".9"/></g>
<rect x="243.600" y="56" width="1.800" height="41" fill="#4a3c36"/>
<!-- poles -->
<g fill="#cfd4dc"><rect x="13.200" y="58" width="1.100" height="43"/><rect x="35.700" y="66" width="1" height="31"/><rect x="59.300" y="53" width="1.100" height="45"/><rect x="80.500" y="47" width="1" height="51"/><rect x="138.700" y="58.500" width="1.300" height="40.500"/><rect x="136" y="57.700" width="7" height="1.500"/></g>
<rect x="50" y="90" width="38" height="7.500" fill="#222c46"/>
<!-- ground: sidewalk -->
<rect x="0" y="96.500" width="249.300" height="7" fill="#b2aea6"/>
<polygon points="90,98.800 249.300,98.800 249.300,102.600 90,102.600" fill="#bcbcb8"/>
<!-- shrubs -->
<path d="M0 90 H54 C58 90 58 97 54 97 H0 Z" fill="#394a2a"/>
<rect x="184" y="95" width="58" height="3.800" fill="#34452e"/>
<rect x="9.300" y="98" width="4" height="5" fill="#deded8"/>
<!-- road & grass -->
<rect x="0" y="102.600" width="249.300" height="41" fill="url(#c4road)"/>
<polygon points="60,117 249.300,103 249.300,114 130,121 0,127 0,121" fill="#5a623a"/>
<polygon points="0,126 120,121 249.300,114 249.300,117.500 120,125 0,130.500" fill="#74776f" opacity=".8"/>
<polygon points="0,133 249.300,120 249.300,122 0,135.500" fill="#4a4d52" opacity=".7"/>
<path d="M74.600 108 C74.600 98.500 173 98.500 173 108 C173 117 74.600 117 74.600 108 Z" fill="#424c2c"/>
<path d="M79 105 C92 100 158 100 169 105 C158 103 92 103 79 105 Z" fill="#5c683e"/>
</g>
</svg>
<div class="hd"></div><div class="ft"></div>
<div class="t" style="transform:scaleX(.870)">TGD Technology Center</div><div class="s">Billerica, MA</div>
<div class="l1">Headcount</div><div class="l2">Capacity</div><div class="v1">622</div><div class="v2">1,100</div></div>

<div class="panel" style="left:80px;top:224px;width:249.3px;height:243px"><div class="ph"></div><div class="pt">Alerts</div></div>
<div class="panel" style="left:344.3px;top:224px;width:249.3px;height:243px"><div class="ph"></div><div class="pt">Headcount / Capacity</div></div>
<div class="panel" style="left:608.6px;top:224px;width:249.3px;height:243px"><div class="ph"></div><div class="pt">Workspace Availability</div></div>
<div class="panel" style="left:872.9px;top:224px;width:249.3px;height:243px"><div class="ph"></div><div class="pt">Work Completion</div></div>

<div class="panel" style="left:80px;top:481px;width:513.6px;height:275.5px"><div class="ph"></div><div class="pt" style="letter-spacing:-.08px">Space and Maintenance Metrics</div></div>
<div class="panel" style="left:608.6px;top:481px;width:249.3px;height:275.5px"><div class="ph"></div><div class="pt">Top 5 Maint. Problems</div></div>
<div class="panel" style="left:872.9px;top:481px;width:249.3px;height:275.5px"><div class="ph"></div><div class="pt" style="letter-spacing:-.12px">Top 5 Request Types</div></div>

<div class="bdg" style="top:277px;background:#fb9b8f;color:#9c3a32">12</div>
<div class="bdg" style="top:305.2px;background:#fbdd66;color:#8a6a10">2</div>
<div class="bdg" style="top:333.2px;background:#fbdd66;color:#8a6a10">32</div>
<div class="bdg" style="top:361px;background:#b5e86f;color:#4c7a1a">9</div>
<div class="al" style="top:277.8px">Departments: less than 70%<br>Occupancy</div>
<div class="al" style="top:309.7px">Floors: with 30% Availability</div>
<div class="al" style="top:338px;letter-spacing:.1px">Work Requests Open for One Week</div>
<div class="al" style="top:360.8px;letter-spacing:.05px">Service Requests Open for 7+ Days<br>(count)</div>
<svg class="abs" style="left:344.2px;top:262px" width="250" height="200" viewBox="344.2 262 250 200">
<circle cx="469.2" cy="359.2" r="51" fill="none" stroke="#eff1f4" stroke-width="18"/>
<circle cx="469.2" cy="359.2" r="51" fill="none" stroke="#fadc63" stroke-width="18" stroke-dasharray="217.90 320.44" transform="rotate(-90 469.2 359.2)"/>
<text x="472.1" y="355.1" text-anchor="middle" font-family="Liberation Sans, sans-serif" font-size="15.7" fill="#3c4158" stroke="#3c4158" stroke-width=".2">68%</text>
<path d="M465.0 373.2 l3.4 -3.6 l2.6 2 l6.2 -5.2 m-3.2 -.3 l3.4 .1 l-.3 3.3" fill="none" stroke="#9cc56c" stroke-width=".9" stroke-linecap="round" stroke-linejoin="round"/><g stroke="#b5b8bd" stroke-width=".9"><path d="M573.7 269.3 h10.4 M573.7 271.9 h8.6 M573.7 274.4 h6.6 M573.7 276.9 h4.6"/></g></svg>
<svg class="abs" style="left:608.5px;top:262px" width="250" height="200" viewBox="608.5 262 250 200">
<circle cx="733.5" cy="359.2" r="51" fill="none" stroke="#eff1f4" stroke-width="18"/>
<circle cx="733.5" cy="359.2" r="51" fill="none" stroke="#fadc63" stroke-width="18" stroke-dasharray="89.72 320.44" transform="rotate(-90 733.5 359.2)"/>
<text x="736.4" y="355.1" text-anchor="middle" font-family="Liberation Sans, sans-serif" font-size="15.7" fill="#3c4158" stroke="#3c4158" stroke-width=".2">28%</text>
<path d="M729.3 366.59999999999997 l3.6 3.4 l2.6 -1.8 l6 5 m-3.2 .3 l3.4 -.1 l-.3 -3.3" fill="none" stroke="#9cc56c" stroke-width=".9" stroke-linecap="round" stroke-linejoin="round"/><g stroke="#b5b8bd" stroke-width=".9"><path d="M838.0 269.3 h10.4 M838.0 271.9 h8.6 M838.0 274.4 h6.6 M838.0 276.9 h4.6"/></g></svg>
<svg class="abs" style="left:872.8px;top:262px" width="250" height="200" viewBox="872.8 262 250 200">
<circle cx="997.8" cy="359.2" r="51" fill="none" stroke="#eff1f4" stroke-width="18"/>
<circle cx="997.8" cy="359.2" r="51" fill="none" stroke="#fb9b8f" stroke-width="18" stroke-dasharray="185.86 320.44" transform="rotate(-90 997.8 359.2)"/>
<text x="1000.7" y="355.1" text-anchor="middle" font-family="Liberation Sans, sans-serif" font-size="15.7" fill="#3c4158" stroke="#3c4158" stroke-width=".2">58%</text>
<path d="M993.5999999999999 373.2 l3.4 -3.6 l2.6 2 l6.2 -5.2 m-3.2 -.3 l3.4 .1 l-.3 3.3" fill="none" stroke="#9cc56c" stroke-width=".9" stroke-linecap="round" stroke-linejoin="round"/><g stroke="#b5b8bd" stroke-width=".9"><path d="M1102.3 269.3 h10.4 M1102.3 271.9 h8.6 M1102.3 274.4 h6.6 M1102.3 276.9 h4.6"/></g></svg>
<div class="th" style="left:318.5px">Change per period / year</div><div class="th" style="left:439.9px">% of Target</div><div class="th" style="left:525.9px">Trend</div>
<div class="band" style="top:545.6px"></div>
<div class="rl" style="top:557.2px">Area Per Occupant</div><div class="rv" style="top:557.2px">164 ft<sup class="q">2</sup></div><div class="rc" style="top:557.2px">-8 ft<sup class="q">2</sup><svg width="5" height="6.4" viewBox="0 0 5 6.4"><path d="M2.5 .2 V5.5 M.5 3.5 L2.5 5.600 L4.500 3.500" fill="none" stroke="#ea5a4c" stroke-width="1.05"/></svg>/ -31 ft<sup class="q">2</sup><svg width="5" height="6.4" viewBox="0 0 5 6.4"><path d="M2.5 .2 V5.5 M.5 3.5 L2.5 5.600 L4.500 3.500" fill="none" stroke="#ea5a4c" stroke-width="1.05"/></svg></div><div class="tb g" style="top:556.1px">99%</div>
<div class="rl" style="top:591.5px">Occupant Density</div><div class="rv" style="top:591.5px">0.05</div><div class="rc" style="top:591.5px">0.01<svg width="5" height="6.4" viewBox="0 0 5 6.4"><path d="M2.5 6.2 V.9 M.5 2.9 L2.5 .8 L4.5 2.9" fill="none" stroke="#ea5a4c" stroke-width="1.05"/></svg>/ 0.02<svg width="5" height="6.4" viewBox="0 0 5 6.4"><path d="M2.5 6.2 V.9 M.5 2.9 L2.5 .8 L4.5 2.9" fill="none" stroke="#ea5a4c" stroke-width="1.05"/></svg></div><div class="tb g" style="top:590.4px">100%</div>
<div class="band" style="top:614.2px"></div>
<div class="rl" style="top:625.8px">Occupancy (%)</div><div class="rv" style="top:625.8px">96%</div><div class="rc" style="top:625.8px">3%<svg width="5" height="6.4" viewBox="0 0 5 6.4"><path d="M2.5 6.2 V.9 M.5 2.9 L2.5 .8 L4.5 2.9" fill="none" stroke="#ea5a4c" stroke-width="1.05"/></svg>/ 16%<svg width="5" height="6.4" viewBox="0 0 5 6.4"><path d="M2.5 6.2 V.9 M.5 2.9 L2.5 .8 L4.5 2.9" fill="none" stroke="#ea5a4c" stroke-width="1.05"/></svg></div><div class="tb y" style="top:624.7px">113%</div>
<div class="rl" style="top:660.1px">Active Work Requests</div><div class="rv" style="top:660.1px">413</div><div class="rc" style="top:660.1px">343<svg width="5" height="6.4" viewBox="0 0 5 6.4"><path d="M2.5 6.2 V.9 M.5 2.9 L2.5 .8 L4.5 2.9" fill="none" stroke="#ea5a4c" stroke-width="1.05"/></svg>/ 413<svg width="5" height="6.4" viewBox="0 0 5 6.4"><path d="M2.5 6.2 V.9 M.5 2.9 L2.5 .8 L4.5 2.9" fill="none" stroke="#ea5a4c" stroke-width="1.05"/></svg></div><div class="tb r" style="top:659.0px">2065%</div>
<div class="band" style="top:682.8px"></div>
<div class="rl" style="top:694.4px">Maintenance Costs (by month)</div><div class="rv" style="top:694.4px">$13,000</div><div class="rc" style="top:694.4px">$500<svg width="5" height="6.4" viewBox="0 0 5 6.4"><path d="M2.5 6.2 V.9 M.5 2.9 L2.5 .8 L4.5 2.9" fill="none" stroke="#ea5a4c" stroke-width="1.05"/></svg>/ $1,000<svg width="5" height="6.4" viewBox="0 0 5 6.4"><path d="M2.5 6.2 V.9 M.5 2.9 L2.5 .8 L4.5 2.9" fill="none" stroke="#ea5a4c" stroke-width="1.05"/></svg></div><div class="tb g" style="top:693.3px">108%</div>
<svg class="abs" style="left:520px;top:545px" width="60" height="175" viewBox="520 545 60 175">
<g stroke="#d9dadc" stroke-width=".8"><path d="M527.3 566.9 H557 M527.3 591.8 H557 M527.3 633.7 H557 M527.3 670.3 H563.6 M527.3 704.9 H557"/></g>
<g fill="none" stroke="#2a2a2a" stroke-width=".9" stroke-linejoin="round">
<path d="M527.3 557.2 L557 567.4 L563.6 567.4"/>
<path d="M527.3 601.7 L533.9 601.7 C537.5 601.7 539 596.9 542.3 596.9 L549.3 596.9 L557 591.6 L563.6 591.6"/>
<path d="M527.3 636 C532 635 537 634 541.4 632.4 C547 630 552 627.5 556.8 626 L563.6 626"/>
<path d="M527.3 668.8 L563.6 660"/>
<path d="M527.3 704.5 L548.3 699.6 L556.8 694.5 L563.6 694.5"/>
</g>
<g fill="#111">
<circle cx="527.3" cy="557.2" r="1.35"/><circle cx="557" cy="567.4" r="1.35"/><circle cx="563.6" cy="567.4" r="1.35"/>
<circle cx="527.3" cy="601.7" r="1.35"/><circle cx="557" cy="591.6" r="1.35"/><circle cx="563.6" cy="591.6" r="1.35"/>
<circle cx="527.3" cy="636" r="1.35"/><circle cx="556.8" cy="626" r="1.35"/><circle cx="563.6" cy="626" r="1.35"/>
<circle cx="527.3" cy="668.8" r="1.35"/><circle cx="563.6" cy="660" r="1.35"/>
<circle cx="527.3" cy="704.5" r="1.35"/><circle cx="556.8" cy="694.5" r="1.35"/><circle cx="563.6" cy="694.5" r="1.35"/>
</g></svg>
<div class="abs" style="left:93.7px;top:753.3px;width:486px;height:3.2px;background:#d6d9dd"></div>
<div class="bl" style="left:623.8px;top:535.4px;letter-spacing:-0.45px">TEMP ADJUSTMENT</div><div class="bb" style="left:623.8px;top:549.9px;width:221.2px">180</div>
<div class="bl" style="left:623.8px;top:567.2px;letter-spacing:-0.43px">ELECTRICAL-LIGHTBULB</div><div class="bb" style="left:623.8px;top:581.7px;width:211.4px">172</div>
<div class="bl" style="left:623.8px;top:599.0px;letter-spacing:-0.39px">INTERIOR-CLEANING</div><div class="bb" style="left:623.8px;top:613.5px;width:170.8px">139</div>
<div class="bl" style="left:623.8px;top:630.8px;letter-spacing:-0.27px">IT-NETWORK</div><div class="bb" style="left:623.8px;top:645.3px;width:119.2px">97</div>
<div class="bl" style="left:623.8px;top:662.6px;letter-spacing:-0.4px">IT-PRINTER</div><div class="bb" style="left:623.8px;top:677.1px;width:88.5px">72</div>
<div class="bl" style="left:888px;top:535.4px;letter-spacing:-0.44px">SERVICE DESK - MAINTENANCE</div><div class="bb" style="left:888px;top:549.9px;width:222px">55</div>
<div class="bl" style="left:888px;top:567.2px;letter-spacing:-0.46px">SERVICE DESK - HOTELING</div><div class="bb" style="left:888px;top:581.7px;width:85.5px">21</div>
<div class="bl" style="left:888px;top:599.0px;letter-spacing:-0.48px">SERVICE DESK - GROUP MOVE</div><div class="bb" style="left:888px;top:613.5px;width:13px">3</div>
<div class="bl" style="left:888px;top:630.8px;letter-spacing:-0.49px">SERVICE DESK - DEPARTMENT SPACE</div><div class="bb" style="left:888px;top:645.3px;width:13px">3</div>
<div class="bl" style="left:888px;top:662.6px;letter-spacing:-0.62px">SERVICE DESK - COPY SERVICE</div><div class="bb" style="left:888px;top:677.1px;width:11.4px">2</div>
</body>
</html>
